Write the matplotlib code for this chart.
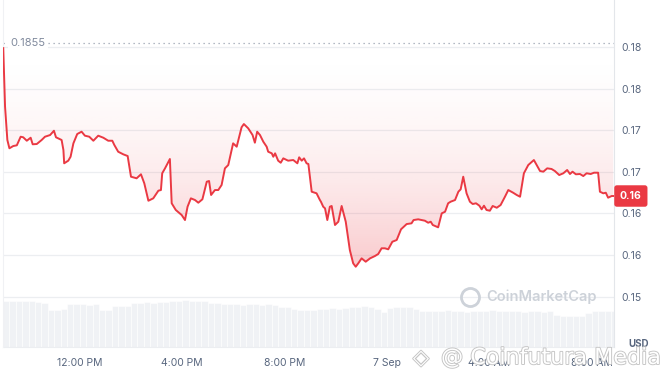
import matplotlib
matplotlib.use('Agg')
import numpy as np
import matplotlib.pyplot as plt
import matplotlib.patheffects as pe
from matplotlib.lines import Line2D
from matplotlib.transforms import blended_transform_factory

plt.rcParams['font.family'] = ['Inter', 'DejaVu Sans']

# price, hours since 9:00 AM
times = [0.01, 0.08, 0.17, 0.25, 0.40, 0.54, 0.69, 0.79, 0.93, 1.08,
         1.16, 1.32, 1.51, 1.64, 1.84, 1.99, 2.07, 2.29, 2.36, 2.39,
         2.55, 2.64, 2.75, 2.90, 3.07, 3.20, 3.37, 3.53, 3.72, 3.92,
         4.11, 4.27, 4.35, 4.50, 4.70, 4.87, 5.00, 5.22, 5.39, 5.52,
         5.68, 5.87, 6.07, 6.17, 6.22, 6.33, 6.52, 6.59, 6.75, 6.98,
         7.11, 7.21, 7.34, 7.50, 7.63, 7.79, 7.96, 8.05, 8.13, 8.28,
         8.41, 8.54, 8.67, 8.80, 8.99, 9.13, 9.32, 9.41, 9.58, 9.75,
         9.84, 9.93, 10.04, 10.17, 10.30, 10.36, 10.50, 10.56, 10.63, 10.75,
         10.85, 10.95, 11.14, 11.34, 11.50, 11.57, 11.67, 11.76, 11.86, 11.93,
         12.06, 12.25, 12.38, 12.42, 12.51, 12.58, 12.67, 12.77, 12.84, 12.97,
         13.10, 13.23, 13.39, 13.55, 13.68, 13.78, 13.88, 14.01, 14.17, 14.34,
         14.53, 14.66, 14.79, 14.92, 15.05, 15.21, 15.38, 15.55, 15.77, 15.96,
         16.04, 16.22, 16.48, 16.61, 16.71, 16.79, 17.00, 17.14, 17.27, 17.39,
         17.49, 17.66, 17.79, 17.88, 17.98, 18.11, 18.24, 18.35, 18.48, 18.61,
         18.70, 18.79, 18.89, 19.02, 19.13, 19.29, 19.44, 19.61, 19.74, 19.93,
         20.07, 20.20, 20.35, 20.52, 20.74, 20.85, 20.98, 21.11, 21.26, 21.43,
         21.56, 21.73, 21.89, 22.04, 22.15, 22.25, 22.38, 22.54, 22.67, 22.80,
         22.96, 23.09, 23.25, 23.32, 23.45, 23.55, 23.64, 23.78, 23.84]

prices = [0.1848, 0.17676, 0.17219, 0.17105, 0.17136, 0.17146, 0.17264, 0.17256, 0.17209, 0.1725,
          0.1716, 0.17164, 0.17219, 0.17264, 0.17287, 0.17346, 0.17256, 0.17219, 0.17081, 0.16899,
          0.16935, 0.16989, 0.17173, 0.17301, 0.17333, 0.17278, 0.17264, 0.17209, 0.17278, 0.1725,
          0.17209, 0.17209, 0.1715, 0.17058, 0.17022, 0.16999, 0.16715, 0.16693, 0.16748, 0.16624,
          0.16385, 0.16418, 0.16523, 0.16532, 0.16762, 0.1683, 0.16958, 0.1635, 0.16258, 0.16189,
          0.1612, 0.16303, 0.16418, 0.16395, 0.16358, 0.16405, 0.16646, 0.16656, 0.16464, 0.16532,
          0.16532, 0.16601, 0.1683, 0.16875, 0.17173, 0.17127, 0.17393, 0.17438, 0.17379, 0.17287,
          0.17182, 0.17333, 0.17287, 0.17195, 0.17127, 0.17058, 0.17036, 0.16989, 0.17036, 0.16935,
          0.16907, 0.16967, 0.16935, 0.16944, 0.16899, 0.16981, 0.16935, 0.16967, 0.16899, 0.16889,
          0.16509, 0.16487, 0.16395, 0.16372, 0.16303, 0.16281, 0.1612, 0.16303, 0.16313, 0.16052,
          0.16097, 0.16313, 0.16097, 0.15708, 0.15526, 0.15479, 0.15526, 0.15594, 0.15548, 0.15594,
          0.15626, 0.15654, 0.15732, 0.15732, 0.15718, 0.15822, 0.15846, 0.15993, 0.16065, 0.16075,
          0.1612, 0.1613, 0.16111, 0.16083, 0.16097, 0.16052, 0.1602, 0.16212, 0.16234, 0.1635,
          0.16372, 0.16395, 0.16509, 0.16542, 0.16715, 0.16487, 0.16372, 0.1634, 0.1635, 0.16317,
          0.16267, 0.16317, 0.16258, 0.16248, 0.16313, 0.16289, 0.16326, 0.1644, 0.16532, 0.16495,
          0.16464, 0.1644, 0.16762, 0.16875, 0.16944, 0.16875, 0.16793, 0.16784, 0.1683, 0.16821,
          0.16793, 0.16738, 0.16762, 0.16807, 0.16752, 0.16784, 0.16748, 0.16752, 0.16724, 0.16762,
          0.16752, 0.1677, 0.1677, 0.16509, 0.16487, 0.16495, 0.16427, 0.1645, 0.1645]

high_24h = 0.1855

# 15 min volume bars (relative)
volume = [46, 46, 46, 46, 46, 45, 44, 37, 37, 38,
          43, 43, 43, 42, 43, 37, 37, 41, 41, 41,
          44, 44, 45, 44, 45, 45, 46, 46, 47, 46,
          46, 46, 44, 44, 43, 43, 43, 42, 43, 43,
          42, 43, 42, 40, 40, 38, 37, 37, 37, 38,
          38, 39, 38, 39, 40, 40, 41, 40, 38, 35,
          39, 40, 40, 40, 38, 36, 36, 36, 36, 37,
          36, 36, 35, 36, 36, 36, 37, 36, 36, 36,
          36, 35, 36, 36, 35, 36, 32, 31, 31, 31,
          31, 34, 36, 36, 36, 36]

yticks = [0.1507, 0.1564, 0.1621, 0.1678, 0.1735, 0.1792, 0.1849]
xtick_pos = [3, 7, 11, 15, 19, 23]
xtick_labels = ['12:00 PM', '4:00 PM', '8:00 PM', '7 Sep', '4:00 AM', '8:00 AM']

RED = '#ea3943'
GREY = '#58667e'
W, H = 667, 384


def box(x0, y0, x1, y1):
    return [x0 / W, 1 - y1 / H, (x1 - x0) / W, (y1 - y0) / H]


fig = plt.figure(figsize=(W / 100, H / 100), dpi=100)
t_end = 23.87

# volume panel
vax = fig.add_axes(box(3, 296.5, 614, 347))
vax.patch.set_alpha(0)
vt = np.arange(len(volume)) * 0.25 + 0.125
vax.bar(vt, volume, width=0.25, color='#f0f2f5', edgecolor='white', linewidth=0.4)
vax.set_xlim(0, t_end)
vax.set_ylim(0, 50.5)
vax.set_yticks([])
vax.set_xticks(xtick_pos)
vax.set_xticklabels(xtick_labels)
vax.tick_params(axis='x', length=0, pad=8, labelsize=7.5, labelcolor=GREY)
for s in ['top', 'left', 'right']:
    vax.spines[s].set_visible(False)
vax.spines['bottom'].set_color('#eceef1')

# price panel
ax = fig.add_axes(box(3, 0, 614, 347))
ax.patch.set_alpha(0)
ax.set_xlim(0, t_end)
ax.set_ylim(0.14377, 0.19141)

# gradient fill between line and 24h high
n = 256
f = np.linspace(0, 1, n)
grad = np.zeros((n, 1, 4))
grad[:, 0, 0] = 234 / 255
grad[:, 0, 1] = 57 / 255
grad[:, 0, 2] = 67 / 255
grad[:, 0, 3] = 0.27 * f ** 1.8
poly = ax.fill_between(times, prices, high_24h, color='none', lw=0)
im = ax.imshow(grad, extent=[0, t_end, min(prices) - 0.0003, high_24h],
               aspect='auto', origin='upper', interpolation='bilinear', zorder=1)
im.set_clip_path(poly.get_paths()[0], transform=ax.transData)

ax.plot(times, prices, color=RED, lw=1.4, zorder=3, solid_joinstyle='round')

# 24h high marker
ax.axhline(high_24h, color='#9aa3b1', lw=0.9, ls=(0, (1, 3)), zorder=2)
ax.text(0.012, high_24h, f'{high_24h:.4f}', transform=blended_transform_factory(ax.transAxes, ax.transData),
        ha='left', va='center', fontsize=8, color='#808a9d',
        bbox=dict(boxstyle='square,pad=0.25', fc='white', ec='none'), zorder=4)

ax.set_yticks(yticks)
ax.set_yticklabels([f'{v:.2f}' for v in yticks])
ax.yaxis.tick_right()
ax.tick_params(axis='y', length=0, pad=5, labelsize=7.5, labelcolor=GREY)
ax.yaxis.grid(True, color='#eceef1', lw=0.9)
ax.set_axisbelow(True)
ax.set_xticks([])
ax.spines['top'].set_visible(False)
ax.spines['bottom'].set_visible(False)
ax.spines['left'].set_color('#f0f1f4')
ax.spines['right'].set_color('#e3e6ea')

# current price badge
ax.text(1.0098, prices[-1], f'{prices[-1]:.2f}', transform=blended_transform_factory(ax.transAxes, ax.transData),
        ha='left', va='center', fontsize=7.5, color='white', fontweight='bold',
        bbox=dict(boxstyle='round,pad=0.55,rounding_size=0.25', fc=RED, ec='none'), zorder=5)

fig.text(639 / W, 1 - 344 / H, 'USD', ha='center', va='center', fontsize=7,
         fontweight='bold', color=GREY)

# watermarks
fig.add_artist(Line2D([470 / W], [1 - 297 / H], marker='o', ms=13, mfc='none', mec='#cdd2d9',
                      mew=2, transform=fig.transFigure))
fig.text(486 / W, 1 - 297 / H, 'CoinMarketCap', ha='left', va='center', fontsize=10.5,
         fontweight='semibold', color='#cdd2d9')
fig.text(413 / W, 1 - 358 / H, '\u25c8', ha='left', va='center', fontsize=15, color='white',
         path_effects=[pe.withStroke(linewidth=1.3, foreground='#c4c4c4')], family='DejaVu Sans')
fig.text(441 / W, 1 - 358 / H, '@ Coinfutura Media', ha='left', va='center', fontsize=16,
         color='white', path_effects=[pe.withStroke(linewidth=1.3, foreground='#c4c4c4')],
         family='DejaVu Sans')

fig.savefig('out.png', dpi=100)
